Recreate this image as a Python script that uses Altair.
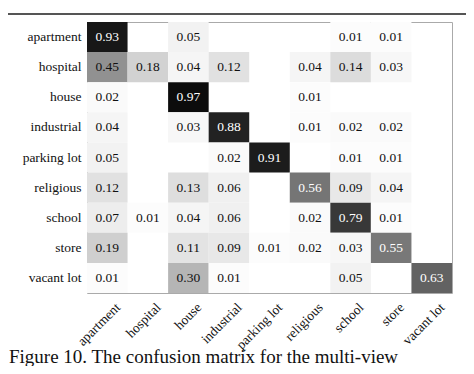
import altair as alt
import pandas as pd

classes = ["apartment", "hospital", "house", "industrial", "parking lot",
           "religious", "school", "store", "vacant lot"]

# rows = true class, columns = predicted class (0 = empty cell)
row_apartment = [0.93, 0.00, 0.05, 0.00, 0.00, 0.00, 0.01, 0.01, 0.00]
row_hospital = [0.45, 0.18, 0.04, 0.12, 0.00, 0.04, 0.14, 0.03, 0.00]
row_house = [0.02, 0.00, 0.97, 0.00, 0.00, 0.01, 0.00, 0.00, 0.00]
row_industrial = [0.04, 0.00, 0.03, 0.88, 0.00, 0.01, 0.02, 0.02, 0.00]
row_parking = [0.05, 0.00, 0.00, 0.02, 0.91, 0.00, 0.01, 0.01, 0.00]
row_religious = [0.12, 0.00, 0.13, 0.06, 0.00, 0.56, 0.09, 0.04, 0.00]
row_school = [0.07, 0.01, 0.04, 0.06, 0.00, 0.02, 0.79, 0.01, 0.00]
row_store = [0.19, 0.00, 0.11, 0.09, 0.01, 0.02, 0.03, 0.55, 0.00]
row_vacant = [0.01, 0.00, 0.30, 0.01, 0.00, 0.00, 0.05, 0.00, 0.63]

caption = "Figure 10. The confusion matrix for the multi-view"

matrix = [row_apartment, row_hospital, row_house, row_industrial, row_parking,
          row_religious, row_school, row_store, row_vacant]

records = []
for true_cls, row in zip(classes, matrix):
    for pred_cls, v in zip(classes, row):
        records.append({"true": true_cls, "pred": pred_cls, "v": v})
df = pd.DataFrame(records)

FONT = "Liberation Serif"

x_enc = alt.X("pred:N", sort=classes,
              scale=alt.Scale(paddingInner=0, paddingOuter=0),
              axis=alt.Axis(title=None, orient="bottom", labelAngle=-45,
                            labelAlign="right", labelBaseline="top",
                            labelOffset=6, labelPadding=7, ticks=False,
                            domain=False, labelFont=FONT, labelFontSize=13.5,
                            labelColor="#111"))
y_enc = alt.Y("true:N", sort=classes,
              scale=alt.Scale(paddingInner=0, paddingOuter=0),
              axis=alt.Axis(title=None, ticks=False, domain=False,
                            labelPadding=6, labelFont=FONT,
                            labelFontSize=13.5, labelColor="#111"))

base = alt.Chart(df)

cells = base.transform_filter("datum.v > 0").mark_rect().encode(
    x=x_enc, y=y_enc,
    color=alt.Color("v:Q", legend=None,
                    scale=alt.Scale(domain=[0, 0.5, 1],
                                    range=["#ffffff", "#868686", "#000000"])),
)

labels = base.transform_filter("datum.v > 0").mark_text(
    font=FONT, fontSize=13.5, baseline="middle", align="center"
).encode(
    x=x_enc, y=y_enc,
    text=alt.Text("v:Q", format=".2f"),
    color=alt.condition("datum.v > 0.5", alt.value("#ffffff"), alt.value("#111111")),
)

one = pd.DataFrame({"k": [0]})
frame_top = alt.Chart(one).mark_rule(color="#555555", strokeWidth=2).encode(
    x=alt.value(-90), x2=alt.value(380), y=alt.value(-8))

chart = alt.layer(cells, labels, frame_top).properties(
    width=365, height=271,
    autosize=alt.AutoSizeParams(type="none"),
    padding={"left": 79, "top": 14, "right": 14, "bottom": 73},
    title=alt.TitleParams(caption, orient="bottom", anchor="start",
                          frame="group", dx=-78, dy=-3, offset=0,
                          font=FONT, fontSize=19, fontWeight="normal",
                          color="#111111"),
).configure(font=FONT).configure_view(stroke="#aaaaaa", strokeWidth=1)

chart.save("out.html", embed_options={"renderer": "svg", "actions": False})
